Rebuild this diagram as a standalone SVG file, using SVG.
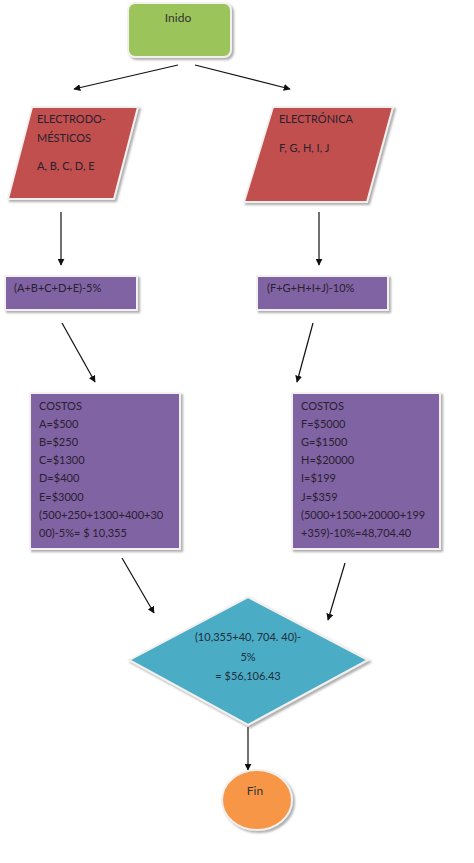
<svg xmlns="http://www.w3.org/2000/svg" width="474" height="863" viewBox="0 0 474 863">
<style>
.lbl{font-family:Lato,"Open Sans","Liberation Sans",sans-serif;font-size:11px;fill:#2a2030}
.big{font-size:12px}
.shape{stroke:#f4f0f0;stroke-width:2;filter:url(#sh)}
.con{stroke:#111;stroke-width:1.2;fill:none;marker-end:url(#ah)}
</style>
<defs>
<filter id="sh" x="-10%" y="-10%" width="130%" height="130%">
<feDropShadow dx="2" dy="2" stdDeviation="1.2" flood-color="#777" flood-opacity="0.6"/>
</filter>
<marker id="ah" viewBox="0 0 10 10" refX="9" refY="5" markerWidth="7" markerHeight="7" orient="auto" markerUnits="userSpaceOnUse">
<path d="M0,0 L10,5 L0,10 z" fill="#111"/>
</marker>
</defs>
<rect width="474" height="863" fill="#fff"/>
<g id="connectors">
<line class="con" x1="178" y1="65" x2="74" y2="89"/>
<line class="con" x1="195" y1="65" x2="290" y2="89"/>
<line class="con" x1="61" y1="212" x2="61" y2="265"/>
<line class="con" x1="319" y1="212" x2="319" y2="265"/>
<line class="con" x1="62" y1="323" x2="95" y2="382"/>
<line class="con" x1="313" y1="323" x2="297" y2="382"/>
<line class="con" x1="122" y1="558" x2="154" y2="613"/>
<line class="con" x1="345" y1="563" x2="328" y2="620"/>
<line class="con" x1="248" y1="727" x2="248" y2="770"/>
</g>
<g id="inicio">
<rect class="shape" x="128" y="3" width="103" height="54" rx="7" fill="#9bc55a"/>
<text class="lbl big" x="178" y="22" text-anchor="middle" style="fill:#333">Inido</text>
</g>
<g id="electrodomesticos">
<polygon class="shape" points="32,107 138,107 114,199 8,199" fill="#c0504d"/>
<text class="lbl" x="37" y="123">ELECTRODO-</text>
<text class="lbl" x="37" y="142">MÉSTICOS</text>
<text class="lbl" x="37" y="170">A, B, C, D, E</text>
</g>
<g id="electronica">
<polygon class="shape" points="273,107 393,107 367,202 244,202" fill="#c0504d"/>
<text class="lbl" x="279" y="123">ELECTRÓNICA</text>
<text class="lbl" x="279" y="152">F, G, H, I, J</text>
</g>
<g id="formula-a">
<rect class="shape" x="5" y="276" width="132" height="34" fill="#8064a2"/>
<text class="lbl" x="14" y="292">(A+B+C+D+E)-5%</text>
</g>
<g id="formula-f">
<rect class="shape" x="257" y="276" width="131" height="34" fill="#8064a2"/>
<text class="lbl" x="267" y="292">(F+G+H+I+J)-10%</text>
</g>
<g id="costos-a">
<rect class="shape" x="30" y="393" width="150" height="156" fill="#8064a2"/>
<text class="lbl" x="39" y="410">COSTOS</text>
<text class="lbl" x="39" y="428">A=$500</text>
<text class="lbl" x="39" y="446">B=$250</text>
<text class="lbl" x="39" y="464">C=$1300</text>
<text class="lbl" x="39" y="482">D=$400</text>
<text class="lbl" x="39" y="501">E=$3000</text>
<text class="lbl" x="39" y="519">(500+250+1300+400+30</text>
<text class="lbl" x="39" y="537">00)-5%= $ 10,355</text>
</g>
<g id="costos-f">
<rect class="shape" x="292" y="393" width="148" height="156" fill="#8064a2"/>
<text class="lbl" x="301" y="410">COSTOS</text>
<text class="lbl" x="301" y="428">F=$5000</text>
<text class="lbl" x="301" y="446">G=$1500</text>
<text class="lbl" x="301" y="464">H=$20000</text>
<text class="lbl" x="301" y="482">I=$199</text>
<text class="lbl" x="301" y="501">J=$359</text>
<text class="lbl" x="301" y="519">(5000+1500+20000+199</text>
<text class="lbl" x="301" y="537">+359)-10%=48,704.40</text>
</g>
<g id="total">
<polygon class="shape" points="248,597 368,660 248,725 129,660" fill="#4bacc6"/>
<text class="lbl" x="248" y="641" text-anchor="middle" style="fill:#1d2f3c">(10,355+40, 704. 40)-</text>
<text class="lbl" x="248" y="661" text-anchor="middle" style="fill:#1d2f3c">5%</text>
<text class="lbl" x="248" y="680" text-anchor="middle" style="fill:#1d2f3c">= $56,106.43</text>
</g>
<g id="fin">
<ellipse class="shape" cx="257" cy="800" rx="35" ry="30" fill="#f79646"/>
<text class="lbl big" x="255" y="795" text-anchor="middle" style="fill:#333">Fin</text>
</g>
</svg>
